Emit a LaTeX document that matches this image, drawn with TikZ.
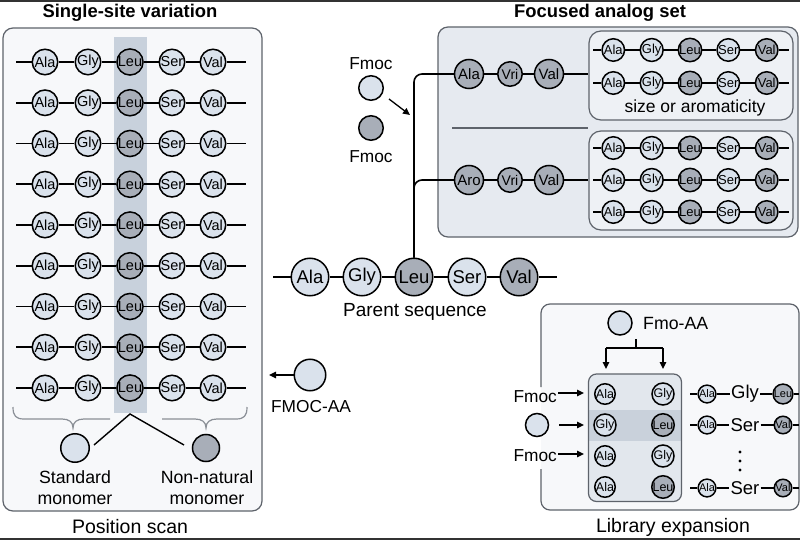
\documentclass[tikz,border=0pt]{standalone}
\usepackage{fontspec}
\setmainfont{Liberation Sans}
\usetikzlibrary{arrows.meta}
\definecolor{cLight}{HTML}{DAE2EC}
\definecolor{cDark}{HTML}{A8AEB8}
\definecolor{cShade}{HTML}{C8D1DC}
\definecolor{cBig}{HTML}{E6EAF0}
\definecolor{cInner}{HTML}{EEF1F5}
\definecolor{cPanel}{HTML}{F7F8FA}
\definecolor{cCol}{HTML}{E2E7ED}
\definecolor{cBand}{HTML}{C9D1DB}
\definecolor{cEdge}{HTML}{5E636B}
\definecolor{cBrace}{HTML}{8A8F96}
\newcommand\fsz[1]{\fontsize{#1pt}{#1pt}\selectfont}
\begin{document}
\begin{tikzpicture}[x=1pt,y=-1pt,
  aa/.style={circle,draw=black,line width=1.5pt,inner sep=0pt},
  aaL/.style={aa,fill=cLight},
  aaD/.style={aa,fill=cDark},
  sL/.style={minimum size=25.5pt,font=\fsz{14.5}},
  sM/.style={minimum size=29pt,font=\fsz{15}},
  sV/.style={minimum size=24.5pt,font=\fsz{14}},
  sI/.style={minimum size=22.5pt,font=\fsz{13}},
  sP/.style={minimum size=37.5pt,font=\fsz{18.5}},
  sC/.style={minimum size=20.5pt,font=\fsz{12.5}},
  sT/.style={minimum size=17.5pt,font=\fsz{11}},
  chain/.style={draw=black,line width=1.6pt},
  boxedge/.style={draw=cEdge,line width=1.2pt},
  lbl/.style={font=\fsz{17.5},inner sep=1pt},
  ttl/.style={font=\bfseries\fsz{18.4},inner sep=0pt},
  captxt/.style={font=\fsz{19.5},inner sep=0pt},
  arr/.style={draw=black,line width=1.4pt,-{Triangle[length=7pt,width=6.5pt]}},
  brc/.style={draw=cBrace,line width=1.2pt}
]
\useasboundingbox (0,0) rectangle (800,540);
\fill[white] (0,0) rectangle (800,540);
\draw[line width=2.2pt,black!80] (0,1.1) -- (800,1.1);
\draw[line width=2.2pt,black!80] (0,538.9) -- (800,538.9);

% ---------------- Left panel ----------------
\node[ttl] (t1) at (130,13) {Single-site variation};
\filldraw[boxedge,fill=cPanel,rounded corners=10pt] (3,28) rectangle (262,511);
\fill[cShade] (114,37) rectangle (147,413);
\foreach \r in {0,...,8}{
  \pgfmathsetmacro\yy{62+40.75*\r}
  \coordinate (Ls\r) at (16,\yy);
  \coordinate (Le\r) at (246,\yy);
  \foreach \c/\x/\t/\s in {1/45/Ala/aaL,2/88/Gly/aaL,3/130/Leu/aaD,4/172/Ser/aaL,5/213/Val/aaL}{
    \node[\s,sL] (L\r-\c) at (\x,\yy) {\t};
  }
  \draw[chain] (Ls\r) -- (L\r-1) -- (L\r-2) -- (L\r-3) -- (L\r-4) -- (L\r-5) -- (Le\r);
}
% braces
\draw[brc] (13,407) .. controls (13,416) and (16,419) .. (24,419) -- (62,419)
  .. controls (69,419) and (73,422) .. (73,428)
  .. controls (73,422) and (77,419) .. (84,419) -- (110,419);
\draw[brc] (162,419) -- (195,419) .. controls (202,419) and (206,422) .. (206,428)
  .. controls (206,422) and (210,419) .. (217,419) -- (236,419)
  .. controls (244,419) and (247,416) .. (247,407);
\coordinate (apex) at (130,414);
\node[aaL,minimum size=28.5pt] (std) at (75,448) {};
\node[aaD,minimum size=27pt] (nn) at (206,448) {};
\coordinate (stdend) at (94,445);
\coordinate (nnend) at (184,445);
\draw[line width=1.4pt] (stdend) -- (apex) -- (nnend);
\node[align=center,font=\fontsize{17.7pt}{21pt}\selectfont,inner sep=0pt] (stdlbl) at (75,488) {Standard\\monomer};
\node[align=center,font=\fontsize{17.7pt}{21pt}\selectfont,inner sep=0pt] (nnlbl) at (207,488) {Non-natural\\monomer};
\node[captxt] (pscan) at (130,527) {Position scan};

% ---------------- FMOC-AA ----------------
\node[aaL,minimum size=31.5pt] (fmocaa) at (310,375) {};
\coordinate (faaend) at (269,375);
\draw[arr] (fmocaa) -- (faaend);
\node[font=\fsz{17.3},inner sep=0pt] (faalbl) at (311,407) {FMOC-AA};

% ---------------- Focused analog set ----------------
\node[ttl] (t2) at (600,13) {Focused analog set};
\filldraw[boxedge,fill=cBig,rounded corners=10pt] (438,27) rectangle (798,237);
\node[boxedge,fill=cInner,rounded corners=12pt,minimum width=204pt,minimum height=89pt,inner sep=0pt] (ib1) at (691,75.5) {};
\node[boxedge,fill=cInner,rounded corners=12pt,minimum width=204pt,minimum height=99pt,inner sep=0pt] (ib2) at (691,180.5) {};
\coordinate (sepA) at (452,128);
\coordinate (sepB) at (588,128);
\draw[boxedge] (sepA) -- (sepB);

% main rows
\node[aaD,sM] (mA1) at (469,74) {Ala};
\node[aaD,sV] (mV1) at (510,74) {Vri};
\node[aaD,sM] (mL1) at (549,74) {Val};
\draw[chain] (mA1) -- (mV1) -- (mL1) -- (mL1 -| ib1.west);
\node[aaD,sM] (mA2) at (469,180) {Aro};
\node[aaD,sV] (mV2) at (510,180) {Vri};
\node[aaD,sM] (mL2) at (549,180) {Val};
\draw[chain] (mA2) -- (mV2) -- (mL2) -- (mL2 -| ib2.west);

% inner rows
\foreach \k/\yy in {1/50,2/83,3/148,4/180,5/212}{
  \coordinate (Is\k) at (593,\yy);
  \coordinate (Ie\k) at (789,\yy);
  \foreach \c/\x/\t/\s in {1/613.3/Ala/aaL,2/651.7/Gly/aaL,3/690/Leu/aaD,4/728.3/Ser/aaL,5/766.7/Val/aaD}{
    \node[\s,sI] (I\k-\c) at (\x,\yy) {\t};
  }
  \draw[chain,line width=1.4pt] (Is\k) -- (I\k-1) -- (I\k-2) -- (I\k-3) -- (I\k-4) -- (I\k-5) -- (Ie\k);
}
\node[lbl] (sizearo) at (695,108) {size or aromaticity};

% Fmoc monomers
\node[lbl,font=\fsz{17.3}] (fm1) at (371,64) {Fmoc};
\node[aaL,minimum size=24.5pt] (fc1) at (371,88) {};
\node[aaD,minimum size=24.5pt] (fc2) at (371,128) {};
\node[lbl,font=\fsz{17.3}] (fm2) at (371,157) {Fmoc};
\coordinate (fa1) at (389,99);
\coordinate (fa2) at (410,115);
\draw[arr,line width=1.3pt] (fa1) -- (fa2);

% ---------------- Parent sequence ----------------
\coordinate (ps) at (273,277);
\coordinate (pe) at (557,277);
\node[aaL,sP] (p1) at (310,277) {Ala};
\node[aaL,sP] (p2) at (362,277) {Gly};
\node[aaD,sP] (p3) at (414,277) {Leu};
\node[aaL,sP] (p4) at (467,277) {Ser};
\node[aaD,sP] (p5) at (519,277) {Val};
\draw[chain] (ps) -- (p1) -- (p2) -- (p3) -- (p4) -- (p5) -- (pe);
\draw[chain,rounded corners=8pt] (p3.north) |- (mA1);
\draw[chain,rounded corners=8pt] (p3.north) |- (mA2);
\node[font=\fsz{19},inner sep=0pt] (plbl) at (415,312) {Parent sequence};

% ---------------- Library expansion ----------------
\fill[cPanel,rounded corners=9pt] (541,304) rectangle (799,510);
\draw[boxedge,rounded corners=9pt] (541,387) -- (541,304) -- (799,304) -- (799,510) -- (541,510) -- (541,469);
\node[aaL,minimum size=24pt] (fmoaa) at (620,323) {};
\node[font=\fsz{17.7},anchor=west,inner sep=0pt] (fmoaalbl) at (643,323) {Fmo-AA};
\coordinate (fk0) at (636,339);
\coordinate (fk1) at (636,348);
\coordinate (fkL) at (606,348);
\coordinate (fkR) at (663,348);
\coordinate (fkLe) at (606,369);
\coordinate (fkRe) at (663,369);
\draw[line width=1.4pt] (fk0) -- (fk1);
\draw[line width=1.4pt] (fkL) -- (fkR);
\draw[arr,line width=1.3pt] (fkL) -- (fkLe);
\draw[arr,line width=1.3pt] (fkR) -- (fkRe);
% column box
\begin{scope}
  \clip[rounded corners=8pt] (588.5,374) rectangle (681.5,501.5);
  \fill[cCol] (588.5,374) rectangle (681.5,501.5);
  \fill[cBand] (588.5,409.5) rectangle (681.5,440.5);
\end{scope}
\draw[boxedge,rounded corners=8pt] (588.5,374) rectangle (681.5,501.5);
\foreach \k/\yy/\ta/\sa/\tb/\sb in {1/394/Ala/aaL/Gly/aaL,2/425/Gly/aaL/Leu/aaD,3/456/Ala/aaL/Gly/aaL,4/487/Ala/aaL/Leu/aaD}{
  \node[\sa,sC] (Ca\k) at (605,\yy) {\ta};
  \node[\sb,sC] (Cb\k) at (663,\yy) {\tb};
}
% Fmoc inputs
\node[font=\fsz{17.3},anchor=east,inner sep=0pt] (lf1) at (557,397) {Fmoc};
\node[aaL,minimum size=23pt] (lfc) at (537,425) {};
\node[font=\fsz{17.3},anchor=east,inner sep=0pt] (lf2) at (557,456) {Fmoc};
\coordinate (la1) at (558,393);
\coordinate (la1e) at (584,393);
\coordinate (la2) at (559,425);
\coordinate (la2e) at (584,425);
\coordinate (la3) at (558,454);
\coordinate (la3e) at (584,454);
\draw[arr,line width=1.3pt] (la1) -- (la1e);
\draw[arr,line width=1.3pt] (la2) -- (la2e);
\draw[arr,line width=1.3pt] (la3) -- (la3e);
% chains
\foreach \k/\yy/\mid/\tl in {1/394/Gly/Leu,2/425/Ser/Val,4/488/Ser/Val}{
  \coordinate (Rs\k) at (690,\yy);
  \coordinate (Re\k) at (799,\yy);
  \node[aaL,sT] (Ra\k) at (707,\yy) {Ala};
  \node[font=\fsz{18.5},inner sep=1pt] (Rm\k) at (745,\yy) {\mid};
  \node[aaD,sT] (Rb\k) at (783,\yy) {\tl};
  \draw[chain,line width=1.4pt] (Rs\k) -- (Ra\k) -- (Rm\k) -- (Rb\k) -- (Re\k);
}
\fill (740,452) circle (1.7pt);
\fill (740,461) circle (1.7pt);
\fill (740,470) circle (1.7pt);
\node[captxt] (libexp) at (673,527) {Library expansion};
\end{tikzpicture}
\end{document}
